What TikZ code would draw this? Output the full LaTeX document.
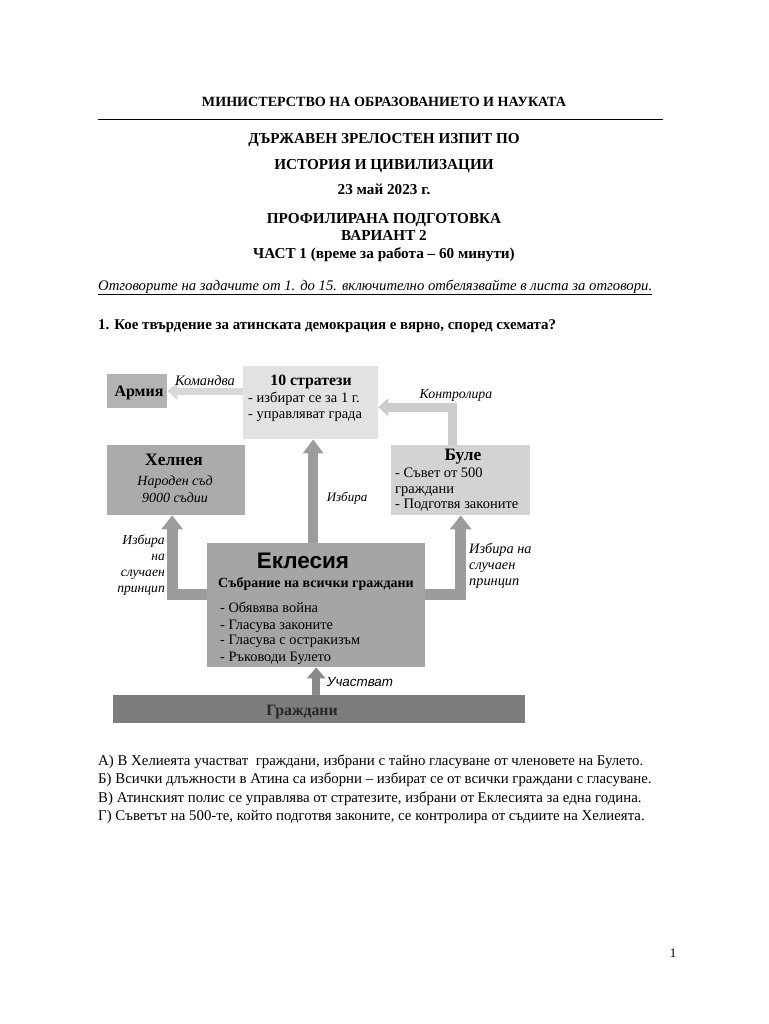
\documentclass[tikz,border=0pt]{standalone}
\usepackage{fontspec}
\setmainfont{Liberation Serif}
\newfontfamily\sansf{Liberation Sans}
\usetikzlibrary{arrows.meta}
\definecolor{armyc}{HTML}{B3B3B3}
\definecolor{stratc}{HTML}{E2E2E2}
\definecolor{helc}{HTML}{ABABAB}
\definecolor{boulec}{HTML}{D3D3D3}
\definecolor{eklc}{HTML}{A5A5A5}
\definecolor{grc}{HTML}{7C7C7C}
\definecolor{arlight}{HTML}{D8D8D8}
\definecolor{armid}{HTML}{CCCCCC}
\definecolor{ardark}{HTML}{9C9C9C}
\definecolor{arvdark}{HTML}{8A8A8A}
\newcommand{\fsz}[1]{\fontsize{#1}{#1}\selectfont}
\begin{document}
\begin{tikzpicture}[x=1pt,y=-1pt,
  txt/.style={inner sep=0pt, yshift=-2.5pt},
  hd/.style={txt, font=\fsz{15.2}\bfseries, anchor=mid},
  box/.style={draw=none, inner sep=0pt, anchor=north west},
  bt/.style={txt, anchor=mid},
  st/.style={txt, font=\fsz{14.5}, anchor=mid west},
  it/.style={txt, font=\fsz{13.6}\itshape, anchor=mid},
  ans/.style={txt, font=\fsz{14.85}, anchor=mid west},
]
\useasboundingbox[fill=white] (0,0) rectangle (768,1024);

% header
\node[hd, font=\fsz{14.1}\bfseries] (h1) at (384,102) {МИНИСТЕРСТВО НА ОБРАЗОВАНИЕТО И НАУКАТА};
\draw[line width=0.9pt] (98,119) -- (663,119);
\node[hd] (h2) at (384,138.5) {ДЪРЖАВЕН ЗРЕЛОСТЕН ИЗПИТ ПО};
\node[hd] (h3) at (384,164.5) {ИСТОРИЯ И ЦИВИЛИЗАЦИИ};
\node[hd] (h4) at (384,190) {23 май 2023 г.};
\node[hd] (h5) at (384,218.5) {ПРОФИЛИРАНА ПОДГОТОВКА};
\node[hd] (h6) at (384,235.5) {ВАРИАНТ 2};
\node[hd] (h7) at (384,253.5) {ЧАСТ 1 (време за работа – 60 минути)};
\node[txt, font=\fsz{14.7}\itshape, anchor=mid west] (instr) at (98,286)
  {Отговорите на задачите от 1. до 15. включително отбелязвайте в листа за отговори.};
\draw[line width=0.7pt] (instr.west |- 0,294) -- (instr.east |- 0,294);
\node[hd, font=\fsz{14.9}\bfseries, anchor=mid west] (q1) at (98,324.5) {1. Кое твърдение за атинската демокрация е вярно, според схемата?};

% boxes
\node[box, fill=armyc, minimum width=60pt, minimum height=34pt] (army) at (107,374) {};
\node[box, fill=stratc, minimum width=135pt, minimum height=73pt] (strat) at (243,366) {};
\node[box, fill=helc, minimum width=138pt, minimum height=70pt] (hel) at (107,445) {};
\node[box, fill=boulec, minimum width=139pt, minimum height=70pt] (boule) at (391,445) {};
\node[box, fill=eklc, minimum width=218pt, minimum height=124pt] (ekl) at (207,543) {};
\node[box, fill=grc, minimum width=412pt, minimum height=28pt] (gr) at (113,695) {};

% box texts
\node[bt, font=\fsz{16}\bfseries] (armyt) at (139,392) {Армия};
\node[bt, font=\fsz{15.8}\bfseries] (stratt) at (311,380.5) {10 стратези};
\node[st] (strat1) at (248,397.5) {- избират се за 1 г.};
\node[st] (strat2) at (248,413.5) {- управляват града};
\node[bt, font=\fsz{17.5}\bfseries] (helt) at (174,461) {Хелнея};
\node[it, font=\fsz{14}\itshape] (hel1) at (175,480.5) {Народен съд};
\node[it, font=\fsz{14}\itshape] (hel2) at (175,497.5) {9000 съдии};
\node[bt, font=\fsz{17.4}\bfseries] (boulet) at (463,456) {Буле};
\node[st] (boule1) at (395,472.5) {- Съвет от 500};
\node[st] (boule2) at (395,488.5) {граждани};
\node[st] (boule3) at (395,503.5) {- Подготвя законите};
\node[bt, font=\sansf\fsz{22.5}\bfseries] (eklt) at (303,564) {Еклесия};
\node[bt, font=\fsz{14}\bfseries] (ekl0) at (316,582.5) {Събрание на всички граждани};
\node[st, font=\fsz{14.4}] (ekl1) at (220,608) {- Обявява война};
\node[st, font=\fsz{14.4}] (ekl2) at (220,625) {- Гласува законите};
\node[st, font=\fsz{14.4}] (ekl3) at (220,640) {- Гласува с остракизъм};
\node[st, font=\fsz{14.4}] (ekl4) at (220,656.5) {- Ръководи Булето};
\node[bt, font=\fsz{15.8}\bfseries, text=black!85] (grt) at (302,710.5) {Граждани};

% connectors
\draw[line width=7pt, arlight, -{Triangle[length=10pt,width=17pt]}] (army.east -| strat.west) -- (army.east);
\draw[line width=9pt, armid, -{Triangle[length=10pt,width=18pt]}] ([xshift=-8pt]boule.north) |- ([yshift=-4.5pt]strat.east);
\draw[line width=10pt, ardark, -{Triangle[length=14pt,width=20pt]}] ([xshift=-3pt]ekl.north) -- ([xshift=-3pt]ekl.north |- strat.south);
\draw[line width=11pt, ardark, -{Triangle[length=14pt,width=21pt]}] ([yshift=11pt]ekl.west) -| ([xshift=-4pt]hel.south);
\draw[line width=11pt, ardark, -{Triangle[length=14pt,width=21pt]}] ([yshift=11pt]ekl.east) -| (boule.south);
\draw[line width=8pt, arvdark, -{Triangle[length=11pt,width=18pt]}] (ekl.south |- gr.north) -- (ekl.south);

% connector labels
\node[it, font=\fsz{14.4}\itshape] (lk) at (205,381) {Командва};
\node[it, font=\fsz{13.8}\itshape] (lc) at (456,394) {Контролира};
\node[it, font=\fsz{13}\itshape] (li) at (347,497) {Избира};
\node[it, anchor=mid east] (ll1) at (165,540) {Избира};
\node[it, anchor=mid east] (ll2) at (165,556) {на};
\node[it, anchor=mid east] (ll3) at (165,572) {случаен};
\node[it, anchor=mid east] (ll4) at (165,588) {принцип};
\node[it, font=\fsz{14.3}\itshape, anchor=mid west] (lr1) at (469,549) {Избира на};
\node[it, font=\fsz{14.3}\itshape, anchor=mid west] (lr2) at (469,565) {случаен};
\node[it, font=\fsz{14.3}\itshape, anchor=mid west] (lr3) at (469,581) {принцип};
\node[bt, font=\sansf\fsz{13.4}\itshape] (lu) at (360,682) {Участват};

% answers
\node[ans] (a1) at (98,761) {А) В Хелиеята участват \ граждани, избрани с тайно гласуване от членовете на Булето.};
\node[ans] (a2) at (98,779) {Б) Всички длъжности в Атина са изборни – избират се от всички граждани с гласуване.};
\node[ans] (a3) at (98,798) {В) Атинският полис се управлява от стратезите, избрани от Еклесията за една година.};
\node[ans] (a4) at (98,816) {Г) Съветът на 500-те, който подготвя законите, се контролира от съдиите на Хелиеята.};

\node[txt, font=\fsz{13}, anchor=mid] (pg) at (673,953) {1};
\end{tikzpicture}
\end{document}
